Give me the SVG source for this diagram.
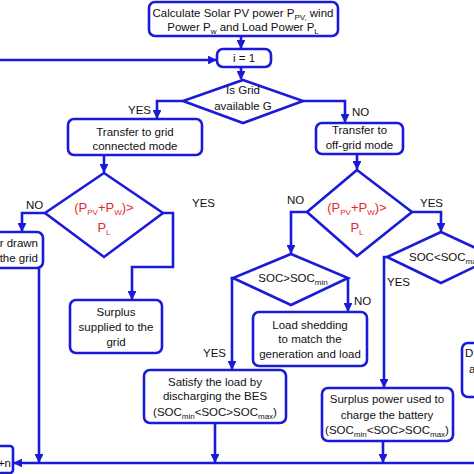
<svg xmlns="http://www.w3.org/2000/svg" width="474" height="474" viewBox="0 0 474 474">
<style>
.b{fill:#fff;stroke:#1a1ad9;stroke-width:2.6}
.c{fill:none;stroke:#1a1ad9;stroke-width:2.6}
text{font-family:"Liberation Sans",Arial,sans-serif;font-size:11.5px;fill:#111}
.m{text-anchor:middle}
.r{fill:#e8262a;font-size:13px}
.s{font-size:8px}
</style>
<defs>
<marker id="a" viewBox="0 0 10 10" refX="9" refY="5" markerWidth="3.4" markerHeight="3.4" orient="auto" markerUnits="strokeWidth">
<path d="M0,0L10,5L0,10z" fill="#1a1ad9"/>
</marker>
</defs>
<rect width="474" height="474" fill="#fff"/>
<g id="connectors" class="c">
<path d="M241,36V48" marker-end="url(#a)"/>
<path d="M0,60H216" marker-end="url(#a)"/>
<path d="M241,67V79" marker-end="url(#a)"/>
<path d="M183,101H157V118" marker-end="url(#a)"/>
<path d="M303,101H345V122" marker-end="url(#a)"/>
<path d="M104,155V172" marker-end="url(#a)"/>
<path d="M357,154V169" marker-end="url(#a)"/>
<path d="M45,213H22V231" marker-end="url(#a)"/>
<path d="M163,213H173V267H132V299" marker-end="url(#a)"/>
<path d="M39,268V462" marker-end="url(#a)"/>
<path d="M307,212H291V253" marker-end="url(#a)"/>
<path d="M412,212H441V231" marker-end="url(#a)"/>
<path d="M233,278H232V369" marker-end="url(#a)"/>
<path d="M348,278V311" marker-end="url(#a)"/>
<path d="M387,257H384V387" marker-end="url(#a)"/>
<path d="M215,423V462" marker-end="url(#a)"/>
<path d="M383,441V462" marker-end="url(#a)"/>
<path d="M474,463H14" marker-end="url(#a)"/>
</g>
<g id="calc">
<rect class="b" x="149" y="2" width="189" height="34" rx="6"/>
<text class="m" x="243" y="17">Calculate Solar PV power P<tspan class="s" dy="3">PV,</tspan><tspan dy="-3"> wind</tspan></text>
<text class="m" x="243" y="31">Power P<tspan class="s" dy="3">w</tspan><tspan dy="-3"> and Load Power  P</tspan><tspan class="s" dy="3">L</tspan></text>
</g>
<g id="i1">
<rect class="b" x="217" y="49" width="54" height="18" rx="6"/>
<text class="m" x="244" y="62" font-size="12.5">i = 1</text>
</g>
<g id="gridq">
<polygon class="b" points="243,80 303,101 243,123 183,101"/>
<text class="m" x="243" y="94">Is Grid</text>
<text class="m" x="243" y="110">available G</text>
</g>
<g id="gridmode">
<rect class="b" x="68" y="119" width="134" height="36" rx="6"/>
<text class="m" x="135" y="136">Transfer to grid</text>
<text class="m" x="135" y="150">connected mode</text>
</g>
<g id="offgrid">
<rect class="b" x="316" y="123" width="87" height="31" rx="6"/>
<text class="m" x="359.5" y="134">Transfer to</text>
<text class="m" x="359.5" y="149">off-grid mode</text>
</g>
<g id="d1">
<polygon class="b" points="104,173 163,213 104,257 45,213"/>
<text class="m r" x="104" y="212">(P<tspan class="s" font-size="9" dy="3">PV</tspan><tspan dy="-3">+P</tspan><tspan class="s" font-size="9" dy="3">W</tspan><tspan dy="-3">)&gt;</tspan></text>
<text class="m r" x="104" y="232">P<tspan class="s" font-size="9" dy="3">L</tspan></text>
</g>
<g id="drawn">
<rect class="b" x="-60" y="232" width="103" height="36" rx="6"/>
<text x="38" y="247" text-anchor="end">r drawn</text>
<text x="38" y="262" text-anchor="end">the grid</text>
</g>
<g id="surplusgrid">
<rect class="b" x="70" y="300" width="92" height="53" rx="6"/>
<text class="m" x="116" y="316">Surplus</text>
<text class="m" x="116" y="331">supplied to the</text>
<text class="m" x="116" y="346">grid</text>
</g>
<g id="d2">
<polygon class="b" points="357,170 412,212 357,256 307,212"/>
<text class="m r" x="357" y="212">(P<tspan class="s" font-size="9" dy="3">PV</tspan><tspan dy="-3">+P</tspan><tspan class="s" font-size="9" dy="3">W</tspan><tspan dy="-3">)&gt;</tspan></text>
<text class="m r" x="357" y="232">P<tspan class="s" font-size="9" dy="3">L</tspan></text>
</g>
<g id="d3">
<polygon class="b" points="291,254 348,278 291,305 233,278"/>
<text class="m" x="293" y="282">SOC&gt;SOC<tspan class="s" dy="3">min</tspan></text>
</g>
<g id="d4">
<polygon class="b" points="441,232 495,257 441,283 387,257"/>
<text x="409" y="261">SOC&lt;SOC<tspan class="s" dy="3">max</tspan></text>
</g>
<g id="shed">
<rect class="b" x="253" y="312" width="114" height="54" rx="6"/>
<text class="m" x="310" y="329">Load shedding</text>
<text class="m" x="310" y="343">to match the</text>
<text class="m" x="310" y="358">generation and load</text>
</g>
<g id="satisfy">
<rect class="b" x="144" y="370" width="142" height="53" rx="6"/>
<text class="m" x="215" y="386">Satisfy the load by</text>
<text class="m" x="215" y="400">discharging the BES</text>
<text class="m" x="215" y="416">(SOC<tspan class="s" dy="3">min</tspan><tspan dy="-3">&lt;SOC&gt;SOC</tspan><tspan class="s" dy="3">max</tspan><tspan dy="-3">)</tspan></text>
</g>
<g id="charge">
<rect class="b" x="322" y="388" width="131" height="53" rx="6"/>
<text class="m" x="387" y="403">Surplus  power used to</text>
<text class="m" x="387" y="419">charge the battery</text>
<text class="m" x="387" y="434">(SOC<tspan class="s" dy="3">min</tspan><tspan dy="-3">&lt;SOC&gt;SOC</tspan><tspan class="s" dy="3">max</tspan><tspan dy="-3">)</tspan></text>
</g>
<g id="discharge">
<rect class="b" x="462" y="343" width="40" height="54" rx="6"/>
<text x="465" y="357">D</text>
<text x="469" y="373">a</text>
</g>
<g id="incr">
<rect class="b" x="-40" y="446" width="53" height="27" rx="3"/>
<text x="11" y="467" text-anchor="end">+n</text>
</g>
<g id="labels">
<text x="128" y="114">YES</text>
<text x="352" y="116">NO</text>
<text x="26" y="209">NO</text>
<text x="192" y="207">YES</text>
<text x="287" y="204">NO</text>
<text x="420" y="207">YES</text>
<text x="203" y="357">YES</text>
<text x="354" y="305">NO</text>
<text x="387" y="286">YES</text>
</g>
</svg>
